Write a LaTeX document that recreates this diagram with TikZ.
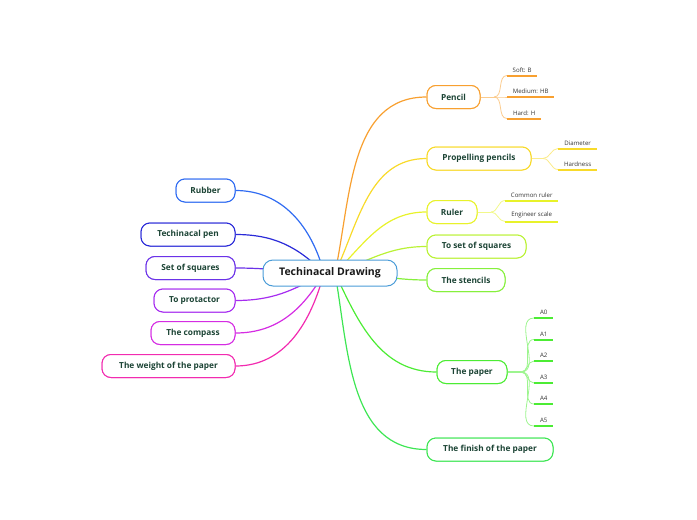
\documentclass[tikz,border=0pt]{standalone}
\usepackage{fontspec}
\setmainfont{Open Sans}
\definecolor{rubberC}{HTML}{2F6BF2}
\definecolor{penC}{HTML}{2A2AD8}
\definecolor{sqC}{HTML}{6B32E8}
\definecolor{protC}{HTML}{A62CF0}
\definecolor{compC}{HTML}{D52CE3}
\definecolor{weightC}{HTML}{F22BB0}
\definecolor{pencilC}{HTML}{F8A030}
\definecolor{propC}{HTML}{F8DA2A}
\definecolor{rulerC}{HTML}{E8F22A}
\definecolor{tosetC}{HTML}{BAF236}
\definecolor{stenC}{HTML}{86F03C}
\definecolor{paperC}{HTML}{4CEC34}
\definecolor{finishC}{HTML}{3EE654}
\definecolor{centerC}{HTML}{4A9CD8}
\definecolor{txtC}{HTML}{1C4435}
\tikzset{
  topic/.style={draw=#1, line width=1pt, fill=white, rounded corners=9pt,
    minimum height=23pt, inner sep=0pt, font=\bfseries\fontsize{8.3}{10}\selectfont, text=txtC},
  central/.style={draw=centerC, line width=1pt, fill=white, rounded corners=10pt,
    minimum height=26pt, minimum width=134pt, inner sep=0pt,
    font=\bfseries\fontsize{10.5}{12}\selectfont, text=black!90},
  branch/.style={draw=#1, line width=1.2pt},
  twig/.style={draw=#1!55, line width=0.8pt},
  leaf/.style={anchor=south west, inner xsep=5pt, inner ysep=3pt,
    font=\fontsize{6.1}{7.5}\selectfont, text=black!80},
  ul/.style={draw=#1, line width=2pt},
}
\begin{document}
\begin{tikzpicture}[x=1pt,y=-1pt]
\useasboundingbox (0,0) rectangle (697,520);
\coordinate (hubR) at (335,273);
\coordinate (hubL) at (324,273);
\path
  node[topic=rubberC, minimum width=59pt] (rubber) at (205.5,190.5) {Rubber}
  node[topic=penC, minimum width=94pt] (pen) at (188,234.5) {Techinacal pen}
  node[topic=sqC, minimum width=89pt] (sq) at (190.5,268) {Set of squares}
  node[topic=protC, minimum width=81pt] (prot) at (194.5,300.5) {To protactor}
  node[topic=compC, minimum width=84pt] (comp) at (193,333) {The compass}
  node[topic=weightC, minimum width=133pt] (weight) at (168.5,366) {The weight of the paper}
  node[topic=pencilC, minimum width=53pt] (pencil) at (453.5,97) {Pencil}
  node[topic=propC, minimum width=104pt] (prop) at (479,158.5) {Propelling pencils}
  node[topic=rulerC, minimum width=50pt] (ruler) at (452,212) {Ruler}
  node[topic=tosetC, minimum width=99pt] (toset) at (476.5,246.5) {To set of squares}
  node[topic=stenC, minimum width=78pt] (sten) at (466,280) {The stencils}
  node[topic=paperC, minimum width=70pt] (paper) at (472,372) {The paper}
  node[topic=finishC, minimum width=126pt] (finish) at (490,449.5) {The finish of the paper};
% branches
\draw[branch=rubberC] (hubL) to[out=105,in=0] (rubber.east);
\draw[branch=penC] (hubL) to[out=135,in=0] (pen.east);
\draw[branch=sqC] (hubL) to[out=178,in=0] (sq.east);
\draw[branch=protC] (hubL) to[out=-150,in=0] (prot.east);
\draw[branch=compC] (hubL) to[out=-120,in=0] (comp.east);
\draw[branch=weightC] (hubL) to[out=-105,in=0] (weight.east);
\draw[branch=pencilC] (hubR) to[out=78,in=180] (pencil.west);
\draw[branch=propC] (hubR) to[out=65,in=180] (prop.west);
\draw[branch=rulerC] (hubR) to[out=45,in=180] (ruler.west);
\draw[branch=tosetC] (hubR) to[out=20,in=180] (toset.west);
\draw[branch=stenC] (hubR) to[out=0,in=180] (sten.west);
\draw[branch=paperC] (hubR) to[out=-65,in=180] (paper.west);
\draw[branch=finishC] (hubR) to[out=-80,in=180] (finish.west);
% redraw topic nodes above branches
\node[topic=rubberC, minimum width=59pt] at (rubber) {Rubber};
\node[topic=penC, minimum width=94pt] at (pen) {Techinacal pen};
\node[topic=sqC, minimum width=89pt] at (sq) {Set of squares};
\node[topic=protC, minimum width=81pt] at (prot) {To protactor};
\node[topic=compC, minimum width=84pt] at (comp) {The compass};
\node[topic=weightC, minimum width=133pt] at (weight) {The weight of the paper};
\node[topic=pencilC, minimum width=53pt] at (pencil) {Pencil};
\node[topic=propC, minimum width=104pt] at (prop) {Propelling pencils};
\node[topic=rulerC, minimum width=50pt] at (ruler) {Ruler};
\node[topic=tosetC, minimum width=99pt] at (toset) {To set of squares};
\node[topic=stenC, minimum width=78pt] at (sten) {The stencils};
\node[topic=paperC, minimum width=70pt] at (paper) {The paper};
\node[topic=finishC, minimum width=126pt] at (finish) {The finish of the paper};
\node[central] (center) at (330,273) {Techinacal Drawing};
% leaves: pencil
\node[leaf, minimum width=30pt] (soft) at (507,75.5) {Soft: B};
\node[leaf, minimum width=47pt] (med) at (507,97) {Medium: HB};
\node[leaf, minimum width=34pt] (hard) at (507,118.5) {Hard: H};
\coordinate (fP) at (494,97);
\draw[twig=pencilC] (pencil.east) -- (fP);
\foreach \l in {soft,med,hard}{
  \draw[twig=pencilC] (fP) to[out=0,in=180] (\l.south west);
  \draw[ul=pencilC] (\l.south west) -- (\l.south east);
}
% leaves: propelling
\node[leaf, minimum width=39pt] (dia) at (558,148.5) {Diameter};
\node[leaf, minimum width=39pt] (hardn) at (558,169.5) {Hardness};
\coordinate (fQ) at (543,158.5);
\draw[twig=propC] (prop.east) -- (fQ);
\foreach \l in {dia,hardn}{
  \draw[twig=propC] (fQ) to[out=0,in=180] (\l.south west);
  \draw[ul=propC] (\l.south west) -- (\l.south east);
}
% leaves: ruler
\node[leaf, minimum width=53pt] (com) at (505,200.5) {Common ruler};
\node[leaf, minimum width=53pt] (eng) at (505,221.5) {Engineer scale};
\coordinate (fR) at (491,212);
\draw[twig=rulerC] (ruler.east) -- (fR);
\foreach \l in {com,eng}{
  \draw[twig=rulerC] (fR) to[out=0,in=180] (\l.south west);
  \draw[ul=rulerC] (\l.south west) -- (\l.south east);
}
% leaves: paper
\node[leaf, minimum width=19pt] (a0) at (534,318) {A0};
\node[leaf, minimum width=19pt] (a1) at (534,339.5) {A1};
\node[leaf, minimum width=19pt] (a2) at (534,361) {A2};
\node[leaf, minimum width=19pt] (a3) at (534,383) {A3};
\node[leaf, minimum width=19pt] (a4) at (534,404) {A4};
\node[leaf, minimum width=19pt] (a5) at (534,426) {A5};
\coordinate (fS) at (521,372);
\draw[twig=paperC, line width=1.4pt] (paper.east) -- (fS);
\foreach \l in {a0,a1,a2,a3,a4,a5}{
  \draw[twig=paperC] (fS) to[out=0,in=180] (\l.south west);
  \draw[ul=paperC] (\l.south west) -- (\l.south east);
}
\end{tikzpicture}
\end{document}
